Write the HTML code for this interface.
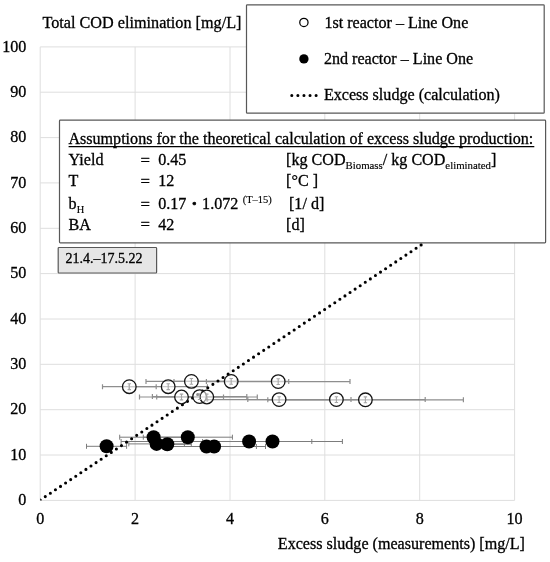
<!DOCTYPE html>
<html lang="en"><head><meta charset="utf-8"><title>Total COD elimination vs. excess sludge</title>
<style>html,body{margin:0;padding:0;background:#fff;}body{width:550px;height:562px;overflow:hidden;}svg{display:block;font-family:"Liberation Serif","Times New Roman",serif;font-size:16.1px;fill:#000;}text{stroke:#000;stroke-width:0.3px;}</style></head><body>
<svg width="550" height="562" viewBox="0 0 550 562">
<rect width="550" height="562" fill="#fff"/>
<g stroke="#dedede" stroke-width="1" fill="none">
<line x1="40.2" y1="500.4" x2="514.6" y2="500.4"/>
<line x1="40.2" y1="455.0" x2="514.6" y2="455.0"/>
<line x1="40.2" y1="409.7" x2="514.6" y2="409.7"/>
<line x1="40.2" y1="364.3" x2="514.6" y2="364.3"/>
<line x1="40.2" y1="319.0" x2="514.6" y2="319.0"/>
<line x1="40.2" y1="273.6" x2="514.6" y2="273.6"/>
<line x1="40.2" y1="228.3" x2="514.6" y2="228.3"/>
<line x1="40.2" y1="182.9" x2="514.6" y2="182.9"/>
<line x1="40.2" y1="137.6" x2="514.6" y2="137.6"/>
<line x1="40.2" y1="92.2" x2="514.6" y2="92.2"/>
<line x1="40.2" y1="46.9" x2="514.6" y2="46.9"/>
<line x1="40.2" y1="46.9" x2="40.2" y2="500.4"/>
<line x1="135.1" y1="46.9" x2="135.1" y2="500.4"/>
<line x1="230.0" y1="46.9" x2="230.0" y2="500.4"/>
<line x1="324.8" y1="46.9" x2="324.8" y2="500.4"/>
<line x1="419.7" y1="46.9" x2="419.7" y2="500.4"/>
<line x1="514.6" y1="46.9" x2="514.6" y2="500.4"/>
</g>
<g text-anchor="end">
<text x="26.3" y="505.0">0</text>
<text x="26.3" y="459.6">10</text>
<text x="26.3" y="414.3">20</text>
<text x="26.3" y="368.9">30</text>
<text x="26.3" y="323.6">40</text>
<text x="26.3" y="278.2">50</text>
<text x="26.3" y="232.9">60</text>
<text x="26.3" y="187.5">70</text>
<text x="26.3" y="142.2">80</text>
<text x="26.3" y="96.8">90</text>
<text x="26.3" y="51.5">100</text>
</g>
<g text-anchor="middle">
<text x="40.2" y="524.1">0</text>
<text x="135.1" y="524.1">2</text>
<text x="230.0" y="524.1">4</text>
<text x="324.8" y="524.1">6</text>
<text x="419.7" y="524.1">8</text>
<text x="514.6" y="524.1">10</text>
</g>
<text x="42.5" y="28.3" font-size="16.2">Total COD elimination [mg/L]</text>
<text x="277.8" y="548.9">Excess sludge (measurements) [mg/L]</text>
<defs><clipPath id="plot"><rect x="40.2" y="46.9" width="474.4" height="453.5"/></clipPath></defs>
<g stroke="#8e8e8e" stroke-width="1.2" fill="none">
<path d="M102.5 386.7H156.2M102.5 384.2v5M156.2 384.2v5"/>
<path d="M129.1 386.7H207.4M129.1 384.2v5M207.4 384.2v5"/>
<path d="M146.0 381.4H236.6M146.0 378.9v5M236.6 378.9v5"/>
<path d="M174.0 381.4H288.7M174.0 378.9v5M288.7 378.9v5"/>
<path d="M206.4 381.6H350.0M206.4 379.1v5M350.0 379.1v5"/>
<path d="M139.5 397.0H223.5M139.5 394.5v5M223.5 394.5v5"/>
<path d="M152.4 396.6H246.8M152.4 394.1v5M246.8 394.1v5"/>
<path d="M156.7 397.0H257.3M156.7 394.5v5M257.3 394.5v5"/>
<path d="M207.2 399.6H351.0M207.2 397.1v5M351.0 397.1v5"/>
<path d="M247.8 399.6H425.2M247.8 397.1v5M425.2 397.1v5"/>
<path d="M267.8 399.8H463.4M267.8 397.3v5M463.4 397.3v5"/>
</g>
<g stroke="#7c7c7c" stroke-width="1.0" fill="none">
<path d="M86.5 446.3H126.6M86.5 443.8v5M126.6 443.8v5"/>
<path d="M119.7 437.2H187.5M119.7 434.7v5M187.5 434.7v5"/>
<path d="M128.8 443.9H184.4M128.8 441.4v5M184.4 441.4v5"/>
<path d="M158.0 444.3H191.3M158.0 441.8v5M191.3 441.8v5"/>
<path d="M143.3 437.2H232.4M143.3 434.7v5M232.4 434.7v5"/>
<path d="M156.4 446.5H256.4M156.4 444.0v5M256.4 444.0v5"/>
<path d="M162.5 446.5H265.5M162.5 444.0v5M265.5 444.0v5"/>
<path d="M121.1 441.5H311.8M121.1 439.0v5M311.8 439.0v5"/>
<path d="M202.6 441.5H342.4M202.6 439.0v5M342.4 439.0v5"/>
</g>
<line x1="40.2" y1="500.0" x2="514.6" y2="182.3" stroke="#000" stroke-width="3.1" stroke-linecap="round" stroke-dasharray="0 6.113" clip-path="url(#plot)"/>
<g stroke="#141414" stroke-width="1.3" fill="#fff" fill-opacity="0.55">
<circle cx="129.3" cy="386.7" r="6.8"/>
<circle cx="168.2" cy="386.7" r="6.8"/>
<circle cx="191.4" cy="381.4" r="6.8"/>
<circle cx="231.2" cy="381.4" r="6.8"/>
<circle cx="278.2" cy="381.6" r="6.8"/>
<circle cx="181.5" cy="397.0" r="6.8"/>
<circle cx="199.6" cy="396.6" r="6.8"/>
<circle cx="206.8" cy="397.0" r="6.8"/>
<circle cx="279.1" cy="399.6" r="6.8"/>
<circle cx="336.4" cy="399.6" r="6.8"/>
<circle cx="365.4" cy="399.8" r="6.8"/>
</g>
<g stroke="#a6a6a6" stroke-width="1.1" fill="none">
<path d="M129.3 383.8v5.8M127.60000000000001 383.8h3.4M127.60000000000001 389.59999999999997h3.4"/>
<path d="M168.2 383.8v5.8M166.5 383.8h3.4M166.5 389.59999999999997h3.4"/>
<path d="M191.4 378.5v5.8M189.70000000000002 378.5h3.4M189.70000000000002 384.29999999999995h3.4"/>
<path d="M231.2 378.5v5.8M229.5 378.5h3.4M229.5 384.29999999999995h3.4"/>
<path d="M278.2 378.70000000000005v5.8M276.5 378.70000000000005h3.4M276.5 384.5h3.4"/>
<path d="M181.5 394.1v5.8M179.8 394.1h3.4M179.8 399.9h3.4"/>
<path d="M199.6 393.70000000000005v5.8M197.9 393.70000000000005h3.4M197.9 399.5h3.4"/>
<path d="M206.8 394.1v5.8M205.10000000000002 394.1h3.4M205.10000000000002 399.9h3.4"/>
<path d="M279.1 396.70000000000005v5.8M277.40000000000003 396.70000000000005h3.4M277.40000000000003 402.5h3.4"/>
<path d="M336.4 396.70000000000005v5.8M334.7 396.70000000000005h3.4M334.7 402.5h3.4"/>
<path d="M365.4 396.90000000000003v5.8M363.7 396.90000000000003h3.4M363.7 402.7h3.4"/>
</g>
<g fill="#000">
<circle cx="106.6" cy="446.3" r="7.0"/>
<circle cx="153.6" cy="437.2" r="7.0"/>
<circle cx="156.6" cy="443.9" r="7.0"/>
<circle cx="167.3" cy="444.3" r="7.0"/>
<circle cx="187.8" cy="437.2" r="7.0"/>
<circle cx="206.5" cy="446.5" r="7.0"/>
<circle cx="214.1" cy="446.5" r="7.0"/>
<circle cx="249.1" cy="441.5" r="7.0"/>
<circle cx="272.5" cy="441.5" r="7.0"/>
</g>
<rect x="246.5" y="4.8" width="297.7" height="108.4" rx="0.8" fill="#fff" stroke="#585858" stroke-width="1.2"/>
<circle cx="303.9" cy="22.4" r="4.15" fill="#fff" stroke="#000" stroke-width="1.25"/>
<circle cx="303.9" cy="58.9" r="4.65" fill="#000"/>
<line x1="291.8" y1="95.5" x2="317" y2="95.5" stroke="#000" stroke-width="3.05" stroke-linecap="round" stroke-dasharray="0 6.08"/>
<text x="324.4" y="27.5">1st reactor – Line One</text>
<text x="323.9" y="64.1">2nd reactor – Line One</text>
<text x="323.9" y="99.5">Excess sludge (calculation)</text>
<rect x="59.5" y="120.2" width="486.1" height="122.7" rx="0.8" fill="#fff" stroke="#585858" stroke-width="1.2"/>
<line x1="68.6" y1="146.7" x2="534.3" y2="146.7" stroke="#000" stroke-width="1.2"/><text x="68.4" y="144.4">Assumptions for the theoretical calculation of excess sludge production:</text>
<text x="68.6" y="164.7">Yield</text><text x="140.6" y="164.7" dy="0.8" font-size="16.8">=</text><text x="158.2" y="164.7">0.45</text>
<text x="286.1" y="164.7">[kg COD<tspan font-size="10.8" stroke-width="0.15" dy="4.6">Biomass</tspan><tspan stroke-width="0.3" dy="-4.6">/ kg COD</tspan><tspan font-size="10.8" stroke-width="0.15" dy="4.6">eliminated</tspan><tspan stroke-width="0.3" dy="-4.6">]</tspan></text>
<text x="68.6" y="185.7">T</text><text x="140.6" y="185.7" dy="0.8" font-size="16.8">=</text><text x="158.2" y="185.7">12</text>
<text x="286.1" y="185.7">[°C ]</text>
<text x="68.6" y="208.8">b<tspan font-size="10.4" stroke-width="0.15" dy="4.2">H</tspan></text><text x="140.6" y="208.8" dy="0.8" font-size="16.8">=</text>
<text x="158.2" y="208.8">0.17</text><text x="190.0" y="211.6" font-size="26" style="stroke-width:0.6px">·</text><text x="202.1" y="208.8">1.072</text><text x="242.7" y="203.4" font-size="10.5" style="stroke-width:0.15px">(T–15)</text>
<text x="289" y="208.8">[1/ d]</text>
<text x="68.6" y="229.6">BA</text><text x="140.6" y="229.6" dy="0.8" font-size="16.8">=</text><text x="158.2" y="229.6">42</text>
<text x="286.1" y="229.6">[d]</text>
<rect x="58.2" y="247.5" width="98.4" height="25.5" rx="0.8" fill="#e6e6e6" stroke="#585858" stroke-width="1.2"/>
<text x="65.4" y="263.4" font-size="14">21.4.–17.5.22</text>
</svg></body></html>
